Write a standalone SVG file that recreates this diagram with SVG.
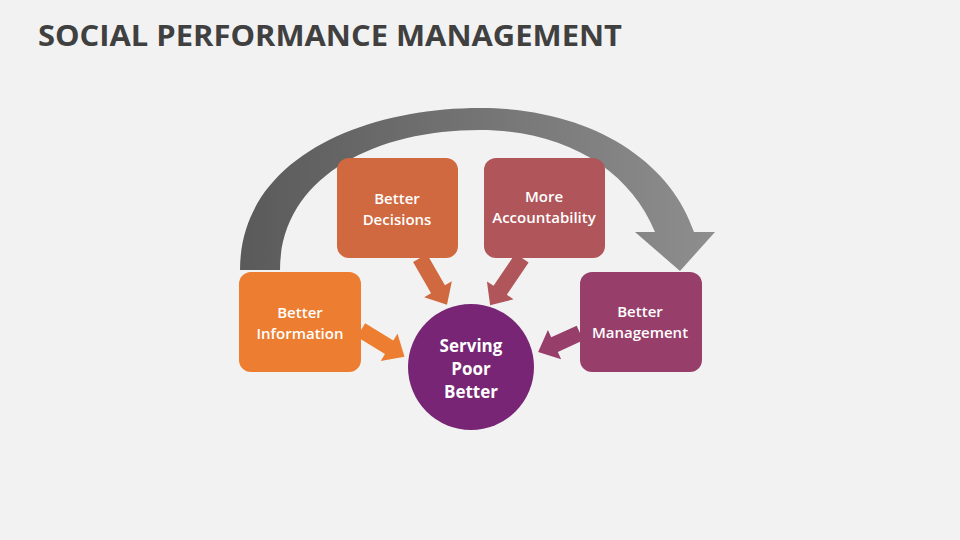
<svg xmlns="http://www.w3.org/2000/svg" width="960" height="540" viewBox="0 0 960 540">
<defs>
<linearGradient id="g" x1="0" y1="0" x2="1" y2="0">
<stop offset="0" stop-color="#5a5a5a"/><stop offset="1" stop-color="#8e8e8e"/>
</linearGradient>
<style>
.t{font-family:"Open Sans","Liberation Sans",sans-serif;fill:#fff;font-size:15px;font-weight:600;text-anchor:middle}
.c{font-family:"Open Sans","Liberation Sans",sans-serif;fill:#fff;font-size:17px;font-weight:700;text-anchor:middle}
</style>
</defs>
<rect width="960" height="540" fill="#f2f2f2"/>
<text x="38" y="46" font-family="Open Sans,Liberation Sans,sans-serif" font-size="29" font-weight="700" fill="#404040" textLength="584" lengthAdjust="spacingAndGlyphs">SOCIAL PERFORMANCE MANAGEMENT</text>
<g id="connectors">
<path d="M240,270 C240,160 360,108 480,108 C590,108 670,160 694,232 L715,232 L680,271 L635,232 L655,232 C630,170 565,130 480,130 C370,130 280,180 280,270 Z" fill="url(#g)"/>
<polygon points="0,-8 33,-8 33,-16 51,0 33,16 33,8 0,8" fill="#ed7d31" transform="translate(361,330) rotate(31.5)"/>
<polygon points="0,-8 36,-8 36,-16 54,0 36,16 36,8 0,8" fill="#d0693f" transform="translate(420,258) rotate(60)"/>
<polygon points="0,-8 39,-8 39,-16 57,0 39,16 39,8 0,8" fill="#b0555a" transform="translate(522,258) rotate(124)"/>
<polygon points="0,-8 28,-8 28,-16 46,0 28,16 28,8 0,8" fill="#973f6a" transform="translate(580,333) rotate(155.5)"/>
</g>
<g id="info"><rect x="239" y="272" width="122" height="100" rx="12" fill="#ed7d31"/><text class="t" x="300" y="318">Better</text><text class="t" x="300" y="339">Information</text></g>
<g id="decisions"><rect x="337" y="158" width="121" height="100" rx="12" fill="#d0693f"/><text class="t" x="397" y="204">Better</text><text class="t" x="397" y="225">Decisions</text></g>
<g id="accountability"><rect x="484" y="158" width="121" height="100" rx="12" fill="#b0555a"/><text class="t" x="544" y="202">More</text><text class="t" x="544" y="223">Accountability</text></g>
<g id="management"><rect x="580" y="272" width="122" height="100" rx="12" fill="#973f6a"/><text class="t" x="640" y="317">Better</text><text class="t" x="640" y="338">Management</text></g>
<g id="center"><circle cx="471" cy="367" r="63" fill="#772574"/><text class="c" x="471" y="352">Serving</text><text class="c" x="471" y="375">Poor</text><text class="c" x="471" y="398">Better</text></g>
</svg>
